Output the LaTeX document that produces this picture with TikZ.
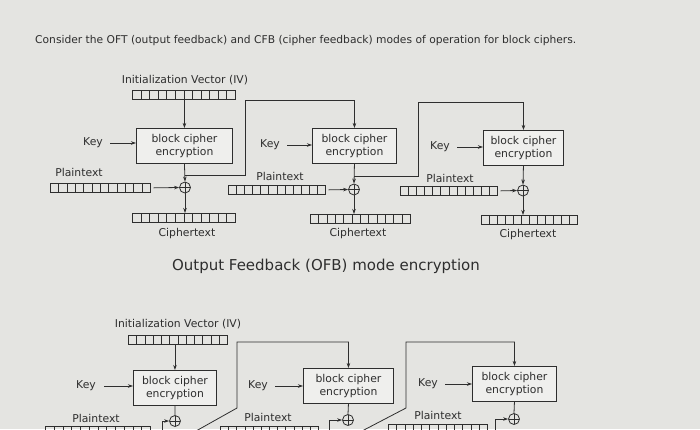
\documentclass[tikz,border=0pt]{standalone}
\usepackage{fontspec}
\setmainfont{DejaVu Sans}
\usetikzlibrary{arrows.meta}
\definecolor{bg}{HTML}{E4E4E1}
\definecolor{ink}{HTML}{2E2E2E}
\begin{document}
\begin{tikzpicture}[x=1pt,y=-1pt,
  txt/.style={inner sep=0,text=ink,font=\fontsize{10.8}{11}\selectfont},
  box/.style={draw=ink,line width=0.9pt,fill=bg!60!white,minimum width=#1,minimum height=35,inner sep=0,align=center,text=ink,font=\fontsize{10.8}{12.5}\selectfont,anchor=north west},
  bar/.style={draw=ink,line width=0.7pt,minimum width=#1,minimum height=9,inner sep=0,anchor=north west,
    path picture={\foreach \i in {1,...,11}{\draw[ink,line width=0.6pt] ([xshift=\i*#1/12]path picture bounding box.south west) -- ([xshift=\i*#1/12]path picture bounding box.north west);}}},
  xo/.style={circle,draw=ink,line width=0.8pt,minimum size=11,inner sep=0,
    path picture={\draw[ink,line width=0.7pt] (path picture bounding box.north)--(path picture bounding box.south) (path picture bounding box.west)--(path picture bounding box.east);}},
  ln/.style={draw=ink,line width=0.8pt},
  ar/.style={ln,-{Stealth[length=5pt,width=3.5pt]}}]
\fill[bg] (0,0) rectangle (700,429);
\useasboundingbox (0,0) rectangle (700,429);
\node[txt,anchor=west,font=\fontsize{10.7}{12}\selectfont] (title) at (35,41) {Consider the OFT (output feedback) and CFB (cipher feedback) modes of operation for block ciphers.};
% ---------- OFB ----------
\node[txt] (ivl) at (185,80) {Initialization Vector (IV)};
\node[bar=103] (iv) at (132,90) {};
\node[box=96] (b1) at (136,128) {block cipher\\encryption};
\node[txt] (k1) at (93,143) {Key};
\coordinate (k1e) at (110,143);
\draw[ar] (k1e) -- (b1.west|-k1e);
\draw[ar] (iv.south-|b1.north) -- (b1.north);
\node[txt] (p1) at (79,172) {Plaintext};
\node[bar=100] (pb1) at (50,183) {};
\node[xo] (x1) at (185,187.5) {};
\draw[ar] (pb1.east)++(3,0) coordinate (pa1) -- (x1.west);
\draw[ar] (b1.south) -- (x1.north);
\node[bar=103] (cb1) at (132,213) {};
\draw[ar] (x1.south) -- (cb1.north-|x1);
\node[txt] (c1) at (187,234) {Ciphertext};

\node[box=84] (b2) at (312,128) {block cipher\\encryption};
\draw[ar] (185,175) -- (245,175) -- (245,100) -- (b2.north|-0,100) -- (b2.north);
\node[txt] (k2) at (270,145) {Key};
\coordinate (k2e) at (287,145);
\draw[ar] (k2e) -- (b2.west|-k2e);
\node[txt] (p2) at (280,176) {Plaintext};
\node[bar=97] (pb2) at (228,185) {};
\node[xo] (x2) at (354,189.5) {};
\draw[ar] (pb2.east)++(3,0) -- (x2.west);
\draw[ar] (b2.south) -- (x2.north);
\node[bar=100] (cb2) at (310,214) {};
\draw[ar] (x2.south) -- (cb2.north-|x2);
\node[txt] (c2) at (358,234) {Ciphertext};

\node[box=80] (b3) at (483,130) {block cipher\\encryption};
\draw[ar] (354,176) -- (418,176) -- (418,102) -- (b3.north|-0,102) -- (b3.north);
\node[txt] (k3) at (440,147) {Key};
\coordinate (k3e) at (457,147);
\draw[ar] (k3e) -- (b3.west|-k3e);
\node[txt] (p3) at (450,178) {Plaintext};
\node[bar=97] (pb3) at (400,186) {};
\node[xo] (x3) at (523,190.5) {};
\draw[ar] (pb3.east)++(3,0) -- (x3.west);
\draw[ar] (b3.south) -- (x3.north);
\node[bar=96] (cb3) at (481,215) {};
\draw[ar] (x3.south) -- (cb3.north-|x3);
\node[txt] (c3) at (528,235) {Ciphertext};

\node[txt,font=\fontsize{15}{16}\selectfont] (cap) at (326,266) {Output Feedback (OFB) mode encryption};

% ---------- CFB ----------
\node[txt] (ivl2) at (178,324) {Initialization Vector (IV)};
\node[bar=99] (iv2) at (128,335) {};
\node[box=83] (d1) at (133,370) {block cipher\\encryption};
\draw[ar] (iv2.south-|d1.north) -- (d1.north);
\node[txt] (q1) at (86,386) {Key};
\coordinate (q1e) at (104,386);
\draw[ar] (q1e) -- (d1.west|-q1e);
\node[txt] (r1) at (96,418) {Plaintext};
\node[bar=105] (rb1) at (45,426) {};
\node[xo] (y1) at (175,421) {};
\draw[ln] (d1.south) -- (y1.north);
\coordinate (e1) at (162,431);
\draw[ar] (e1) -- (162,421) -- (y1.west);
\node[box=90] (d2) at (303,368) {block cipher\\encryption};
\draw[ar] (196,431) -- (237,408) -- (237,342) -- (d2.north|-0,342) -- (d2.north);
\node[txt] (q2) at (258,386) {Key};
\coordinate (q2e) at (275,386);
\draw[ar] (q2e) -- (d2.west|-q2e);
\node[txt] (r2) at (268,417) {Plaintext};
\node[bar=98] (rb2) at (220,426) {};
\node[xo] (y2) at (348,420) {};
\draw[ln] (d2.south) -- (y2.north);
\draw[ar] (329,431) -- (329,420) -- (y2.west);
\node[box=84] (d3) at (472,366) {block cipher\\encryption};
\draw[ar] (362,431) -- (406,408) -- (406,342) -- (d3.north|-0,342) -- (d3.north);
\node[txt] (q3) at (428,384) {Key};
\coordinate (q3e) at (445,384);
\draw[ar] (q3e) -- (d3.west|-q3e);
\node[txt] (r3) at (438,415) {Plaintext};
\node[bar=99] (rb3) at (388,424) {};
\node[xo] (y3) at (514,419) {};
\draw[ln] (d3.south) -- (y3.north);
\draw[ar] (495,431) -- (495,419) -- (y3.west);
\end{tikzpicture}
\end{document}
